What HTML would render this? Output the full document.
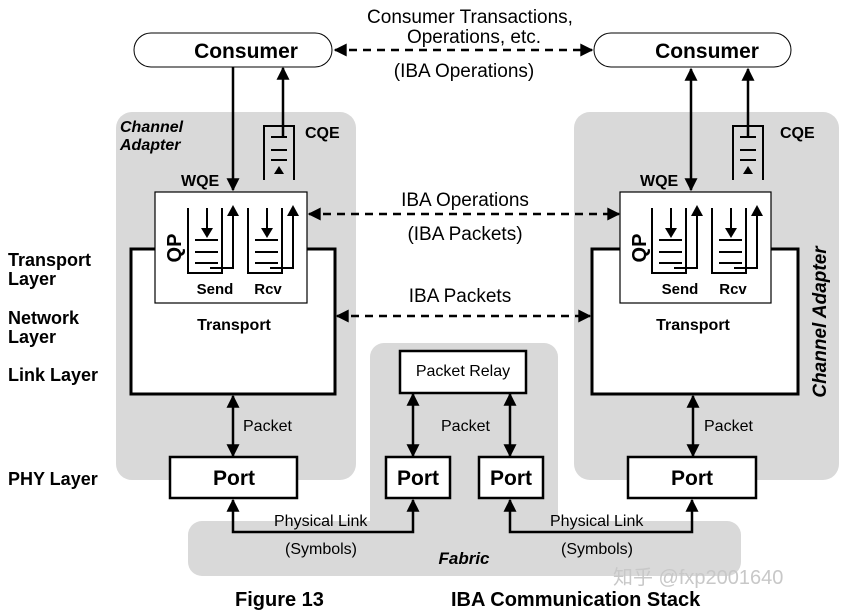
<!DOCTYPE html>
<html><head><style>body{margin:0;background:#fff}svg{display:block}text{font-family:"Liberation Sans",Arial,sans-serif}</style></head>
<body>
<svg width="846" height="616" viewBox="0 0 846 616" xmlns="http://www.w3.org/2000/svg">
<defs>
<marker id="ah" viewBox="0 0 10 10" refX="9" refY="5" markerWidth="15" markerHeight="13" orient="auto-start-reverse" markerUnits="userSpaceOnUse"><path d="M0,0 L10,5 L0,10z" fill="#000"/></marker>
<g id="q">
<path d="M0,0 V65 H34 V0" fill="none" stroke="#000" stroke-width="2"/>
<path d="M7,32 H30 M7,44 H30 M7,55 H30" stroke="#000" stroke-width="2"/>
<path d="M19,0 V22" stroke="#000" stroke-width="2"/><path d="M13,20 L19,30 L25,20z"/>
<path d="M22,60 H45 V2" fill="none" stroke="#000" stroke-width="2"/><path d="M39,8 L45,-3 L51,8z"/>
</g>
<g id="cq">
<path d="M0,54 V0 H30 V54" fill="none" stroke="#000" stroke-width="2"/>
<path d="M7,11 H23 M7,24 H23 M7,34 H23" stroke="#000" stroke-width="2"/>
<path d="M10,48 L15,40 L20,48z"/>
</g>
</defs>
<rect x="116" y="112" width="240" height="368" rx="16" fill="#d9d9d9"/>
<rect x="574" y="112" width="265" height="368" rx="16" fill="#d9d9d9"/>
<rect x="370" y="343" width="188" height="200" rx="14" fill="#d9d9d9"/>
<rect x="188" y="521" width="553" height="55" rx="14" fill="#d9d9d9"/>
<rect x="134" y="33" width="198" height="34" rx="17" fill="#fff" stroke="#000" stroke-width="1"/>
<rect x="594" y="33" width="197" height="34" rx="17" fill="#fff" stroke="#000" stroke-width="1"/>
<text x="246" y="58" font-size="21" font-weight="bold" text-anchor="middle">Consumer</text>
<text x="707" y="58" font-size="21" font-weight="bold" text-anchor="middle">Consumer</text>
<rect x="131" y="249" width="204" height="145" fill="#fff" stroke="#000" stroke-width="3"/>
<rect x="592" y="249" width="206" height="145" fill="#fff" stroke="#000" stroke-width="3"/>
<rect x="155" y="192" width="152" height="111" fill="#fff" stroke="#000" stroke-width="1.2"/>
<rect x="620" y="192" width="151" height="111" fill="#fff" stroke="#000" stroke-width="1.2"/>
<use href="#q" x="188" y="208"/><use href="#q" x="248" y="208"/>
<use href="#q" x="652" y="208"/><use href="#q" x="712" y="208"/>
<use href="#cq" x="264" y="126"/><use href="#cq" x="733" y="126"/>
<text transform="translate(181,248) rotate(-90)" font-size="20" font-weight="bold" text-anchor="middle">QP</text>
<text transform="translate(646,248) rotate(-90)" font-size="20" font-weight="bold" text-anchor="middle">QP</text>
<text x="215" y="294" font-size="15" font-weight="bold" text-anchor="middle">Send</text>
<text x="268" y="294" font-size="15" font-weight="bold" text-anchor="middle">Rcv</text>
<text x="680" y="294" font-size="15" font-weight="bold" text-anchor="middle">Send</text>
<text x="733" y="294" font-size="15" font-weight="bold" text-anchor="middle">Rcv</text>
<text x="234" y="330" font-size="16" font-weight="bold" text-anchor="middle">Transport</text>
<text x="693" y="330" font-size="16" font-weight="bold" text-anchor="middle">Transport</text>
<text x="120" y="132" font-size="16" font-weight="bold" font-style="italic">Channel</text>
<text x="120" y="150" font-size="16" font-weight="bold" font-style="italic">Adapter</text>
<text transform="translate(826,322) rotate(-90)" font-size="19" font-weight="bold" font-style="italic" text-anchor="middle">Channel Adapter</text>
<text x="305" y="138" font-size="16" font-weight="bold">CQE</text>
<text x="780" y="138" font-size="16" font-weight="bold">CQE</text>
<text x="181" y="186" font-size="16" font-weight="bold">WQE</text>
<text x="640" y="186" font-size="16" font-weight="bold">WQE</text>
<g stroke="#000" stroke-width="2.5" fill="none">
<line x1="233" y1="67" x2="233" y2="190" marker-end="url(#ah)"/>
<line x1="283" y1="137" x2="283" y2="68" marker-end="url(#ah)"/>
<line x1="691" y1="69" x2="691" y2="190" marker-start="url(#ah)" marker-end="url(#ah)"/>
<line x1="748" y1="137" x2="748" y2="69" marker-end="url(#ah)"/>
<line x1="335" y1="50" x2="592" y2="50" stroke-dasharray="8,6" marker-start="url(#ah)" marker-end="url(#ah)"/>
<line x1="309" y1="214" x2="619" y2="214" stroke-dasharray="8,6" marker-start="url(#ah)" marker-end="url(#ah)"/>
<line x1="337" y1="316" x2="590" y2="316" stroke-dasharray="8,6" marker-start="url(#ah)" marker-end="url(#ah)"/>
<line x1="233" y1="396" x2="233" y2="456" marker-start="url(#ah)" marker-end="url(#ah)"/>
<line x1="693" y1="396" x2="693" y2="456" marker-start="url(#ah)" marker-end="url(#ah)"/>
<line x1="413" y1="394" x2="413" y2="456" marker-start="url(#ah)" marker-end="url(#ah)"/>
<line x1="510" y1="394" x2="510" y2="456" marker-start="url(#ah)" marker-end="url(#ah)"/>
<path d="M233,500 V532 H413 V500" marker-start="url(#ah)" marker-end="url(#ah)"/>
<path d="M510,500 V532 H692 V500" marker-start="url(#ah)" marker-end="url(#ah)"/>
</g>
<rect x="400" y="351" width="126" height="42" fill="#fff" stroke="#000" stroke-width="2.5"/>
<text x="463" y="376" font-size="16" text-anchor="middle">Packet Relay</text>
<g fill="#fff" stroke="#000" stroke-width="2.5">
<rect x="170" y="457" width="127" height="41"/><rect x="386" y="457" width="64" height="41"/>
<rect x="479" y="457" width="64" height="41"/><rect x="628" y="457" width="128" height="41"/>
</g>
<g font-size="21" font-weight="bold" text-anchor="middle">
<text x="234" y="485">Port</text><text x="418" y="485">Port</text><text x="511" y="485">Port</text><text x="692" y="485">Port</text>
</g>
<g font-size="16">
<text x="243" y="431">Packet</text><text x="441" y="431">Packet</text><text x="704" y="431">Packet</text>
<text x="274" y="526">Physical Link</text><text x="285" y="554">(Symbols)</text>
<text x="550" y="526">Physical Link</text><text x="561" y="554">(Symbols)</text>
</g>
<text x="464" y="564" font-size="17" font-weight="bold" font-style="italic" text-anchor="middle">Fabric</text>
<g font-size="19" text-anchor="middle">
<text x="470" y="23">Consumer Transactions,</text><text x="474" y="43">Operations, etc.</text>
<text x="464" y="77">(IBA Operations)</text>
<text x="465" y="206">IBA Operations</text><text x="465" y="240">(IBA Packets)</text>
<text x="460" y="302">IBA Packets</text>
</g>
<g font-size="18" font-weight="bold">
<text x="8" y="266">Transport</text><text x="8" y="285">Layer</text>
<text x="8" y="324">Network</text><text x="8" y="343">Layer</text>
<text x="8" y="381">Link Layer</text><text x="8" y="485">PHY Layer</text>
</g>
<text x="235" y="606" font-size="20" font-weight="bold">Figure 13</text>
<text x="451" y="606" font-size="20" font-weight="bold">IBA Communication Stack</text>
<text x="613" y="584" font-size="20" fill="#c8c8c8" font-family="'Liberation Sans','Noto Sans CJK SC',sans-serif">知乎 @fxp2001640</text>
</svg>
</body></html>
